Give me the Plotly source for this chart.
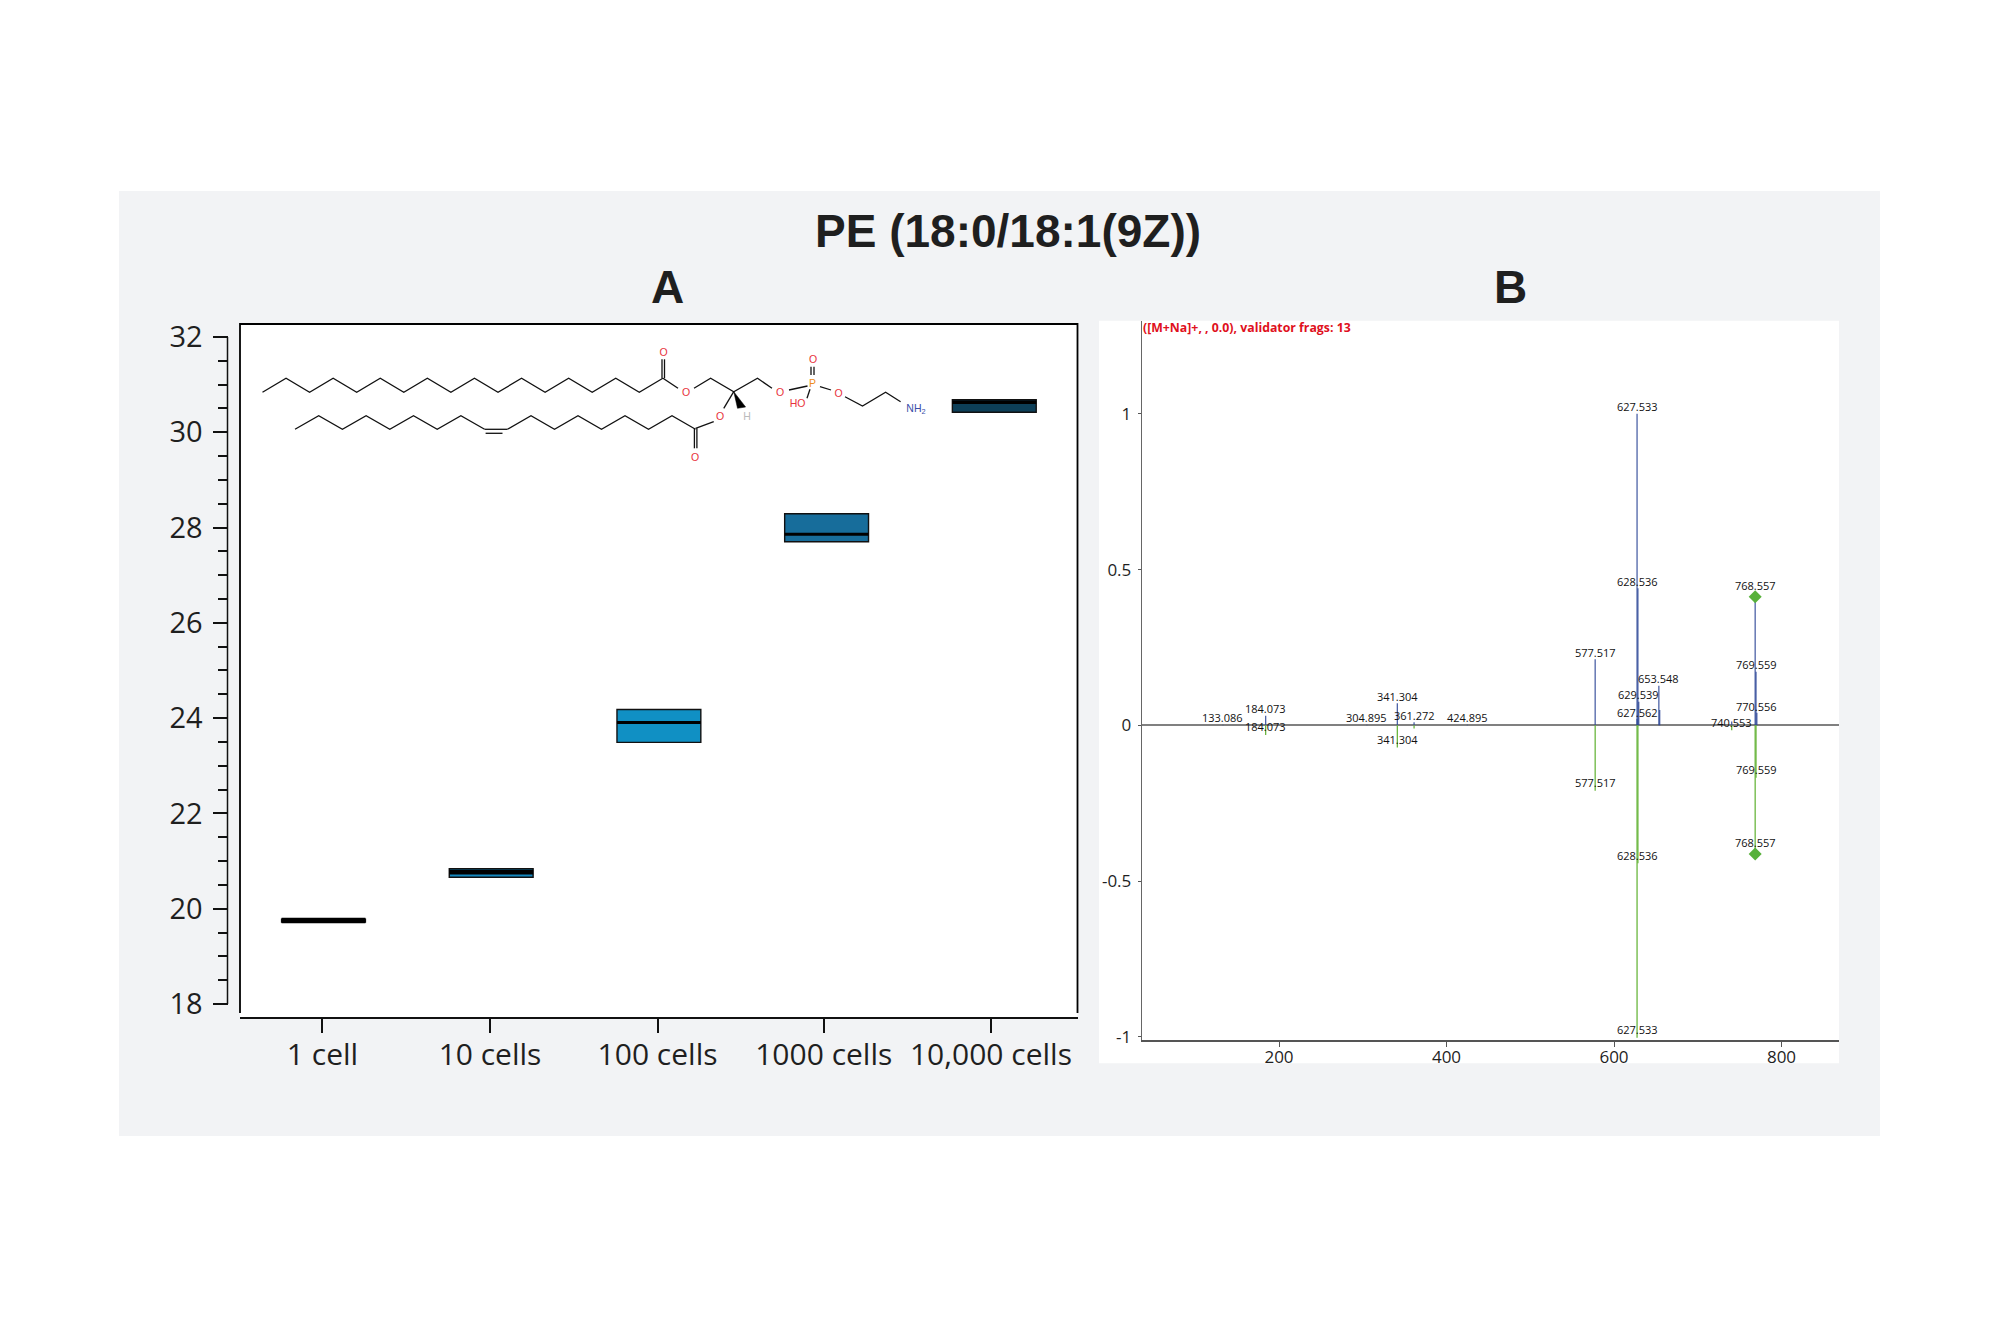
import plotly.graph_objects as go

W, H = 2000, 1333

# Panel A: retention time spread per cell count
cell_labels = ["1 cell", "10 cells", "100 cells", "1000 cells", "10,000 cells"]
cell_tick_nudge = [-0.006, -0.007, -0.008, -0.017, -0.020]
box_q1 = [19.72, 20.66, 23.49, 27.70, 30.42]
box_median = [19.75, 20.77, 23.91, 27.86, 30.63]
box_q3 = [19.78, 20.84, 24.18, 28.29, 30.68]
box_fill = ["#000000", "#1487bd", "#1090c4", "#176d9b", "#0d3f58"]
median_width = [5.5, 5, 3, 3, 3.5]

# Panel B: mirrored MS/MS spectrum
upper_mz = [133.086, 184.073, 304.895, 341.304, 361.272, 424.895, 577.517, 627.533,
            627.562, 628.536, 629.539, 653.548, 768.557, 769.559, 770.556]
upper_int = [0.002, 0.031, 0.002, 0.071, 0.010, 0.002, 0.212, 1.0,
             0.020, 0.44, 0.076, 0.127, 0.413, 0.172, 0.040]
lower_mz = [184.073, 341.304, 577.517, 627.533, 628.536, 740.553, 768.557, 769.559]
lower_int = [-0.031, -0.071, -0.21, -1.003, -0.443, -0.016, -0.413, -0.168]
extra_upper_mz = [654.55, 740.553]
extra_upper_int = [0.049, 0.012]
extra_lower_mz = [361.272]
extra_lower_int = [-0.01]
precursor_mz = [768.557, 768.557]
precursor_int = [0.413, -0.413]
y_tick_vals = [1, 0.5, 0, -0.5, -1]
y_tick_text = ["1", "0.5", "0", "-0.5", "-1"]
mz_ticks = [200, 400, 600, 800]

FONT = "Open Sans"
INK = "#1f1f1f"


def px(x):
    return x / W


def py(y):
    return 1 - y / H


def sticks(xs, ys):
    out_x, out_y = [], []
    for a, b in zip(xs, ys):
        out_x += [a, a, None]
        out_y += [0, b, None]
    return out_x, out_y


def zigzag(x0, y0, y1, step, n):
    """Skeletal carbon chain alternating between two heights."""
    xs = [x0 + step * i for i in range(n)]
    ys = [y0 if i % 2 == 0 else y1 for i in range(n)]
    return xs, ys


fig = go.Figure()

# Cell-count boxes with heavy median bars
for i, name in enumerate(cell_labels):
    fig.add_trace(go.Box(
        x=[i], q1=[box_q1[i]], median=[box_median[i]], q3=[box_q3[i]],
        lowerfence=[box_q1[i]], upperfence=[box_q3[i]], width=0.5, whiskerwidth=0,
        fillcolor=box_fill[i], line=dict(color="#111111", width=1.4),
        name=name, xaxis="x", yaxis="y", hoverinfo="skip",
    ))
    fig.add_trace(go.Scatter(
        x=[i - 0.25, i + 0.25], y=[box_median[i]] * 2, mode="lines",
        line=dict(color="#000000", width=median_width[i]),
        xaxis="x", yaxis="y", hoverinfo="skip",
    ))

# Spectrum sticks
BLUE = "rgba(45,70,150,0.85)"
GREEN = "#6ab63e"
for xs, ys, colour in [
    (upper_mz + extra_upper_mz, upper_int + extra_upper_int, BLUE),
    (lower_mz + extra_lower_mz, lower_int + extra_lower_int, GREEN),
]:
    sx, sy = sticks(xs, ys)
    fig.add_trace(go.Scatter(x=sx, y=sy, mode="lines", line=dict(color=colour, width=1.3),
                             xaxis="x2", yaxis="y2", hoverinfo="skip"))
fig.add_trace(go.Scatter(
    x=precursor_mz, y=precursor_int, mode="markers",
    marker=dict(symbol="diamond", size=10, color="#57b13a"),
    xaxis="x2", yaxis="y2", hoverinfo="skip",
))

# Lipid skeleton, on an overlay axis scaled to canvas pixels
bond_paths = [
    zigzag(262.5, 392.3, 378.3, 23.55, 18),
    ([663, 678], [378.3, 388.3]),
    ([694, 710.6, 733.75, 757.5, 772], [388.3, 378.3, 391.7, 378.3, 388.3]),
    ([789, 807.5], [390, 386]),
    ([820, 831], [386.7, 390]),
    ([810, 807], [389.3, 398.3]),
    ([845, 862.5, 885.6, 900.6], [396.7, 406, 392.3, 401.7]),
    ([733.75, 723.75], [391.7, 408.3]),
    ([713.75, 695.6], [421.7, 428.3]),
    ([662, 662], [378.3, 359.3]),
    ([664.5, 664.5], [378.3, 359.3]),
    ([811, 811], [366.7, 375]),
    ([814, 814], [366.7, 375]),
    ([694.4, 694.4], [428.3, 448.3]),
    ([696.9, 696.9], [428.3, 448.3]),
    zigzag(295, 429.3, 415.7, 23.7, 9),
    ([484.6, 507.5], [429.3, 429.3]),
    ([485.6, 502.5], [433.3, 433.3]),
    zigzag(507.5, 429.3, 415.7, 23.5, 9),
]
for xs, ys in bond_paths:
    fig.add_trace(go.Scatter(x=xs, y=ys, mode="lines", line=dict(color="#111111", width=1.3),
                             xaxis="x3", yaxis="y3", hoverinfo="skip"))
fig.add_trace(go.Scatter(
    x=[733.75, 737.5, 745.6, 733.75], y=[391.7, 408.3, 407, 391.7], mode="lines",
    fill="toself", fillcolor="#000000", line=dict(color="#000000", width=0.5),
    xaxis="x3", yaxis="y3", hoverinfo="skip",
))
atom_text = ["O", "O", "O", "P", "O", "HO", "O", "NH<sub>2</sub>", "O", "H", "O"]
atom_x = [663.7, 686, 780, 812.5, 813, 797.5, 838.7, 916, 720, 747, 695]
atom_y = [353.3, 393.3, 393.3, 384.3, 360, 404.7, 394, 409, 417.3, 417, 458.3]
atom_colour = ["#e8323c", "#e8323c", "#e8323c", "#ee8c1c", "#e8323c", "#e8323c",
               "#e8323c", "#3a4ea8", "#e8323c", "#bbbbbb", "#e8323c"]
fig.add_trace(go.Scatter(
    x=atom_x, y=atom_y, text=atom_text, mode="text",
    textfont=dict(family="Liberation Sans", size=10.5, color=atom_colour),
    textposition="middle center", xaxis="x3", yaxis="y3", hoverinfo="skip",
))

annotations = []
for text, x, y, size in [("PE (18:0/18:1(9Z))", 1008, 231, 46), ("A", 667.5, 287, 46), ("B", 1510, 287, 46)]:
    annotations.append(dict(text=f"<b>{text}</b>", x=px(x), y=py(y), xref="paper", yref="paper",
                            showarrow=False, xanchor="center", yanchor="middle",
                            font=dict(family="Liberation Sans", size=size, color=INK)))
annotations.append(dict(text="<b>([M+Na]+, , 0.0), validator frags: 13</b>", x=px(1141), y=py(328),
                        xref="paper", yref="paper", showarrow=False, xanchor="left", yanchor="middle",
                        font=dict(family=FONT, size=12.3, color="#e01020")))

# Fragment labels sit just past each stick tip, always on the upper side
peak_font = dict(family=FONT, size=11, color="#111111")
for mz, val in list(zip(upper_mz, upper_int)) + list(zip(lower_mz, lower_int)):
    if abs(val) == 0.413:
        shift = 11.7 if val < 0 else 11
    else:
        shift = 8 if val < 0 else 6.8
    annotations.append(dict(
        text=f"{mz:.3f}", x=mz, y=val, xref="x2", yref="y2", showarrow=False,
        xanchor="center", yanchor="middle", yshift=shift, font=peak_font,
    ))

shapes = [
    dict(type="rect", xref="paper", yref="paper", layer="below", x0=px(119), x1=px(1880),
         y0=py(191), y1=py(1136), fillcolor="#f2f3f5", line_width=0),
    dict(type="rect", xref="paper", yref="paper", layer="below", x0=px(1099), x1=px(1839),
         y0=py(320.7), y1=py(1063.3), fillcolor="#ffffff", line_width=0),
    dict(type="rect", xref="paper", yref="paper", layer="below", x0=px(240), x1=px(1077.5),
         y0=py(324), y1=py(1017), fillcolor="#ffffff", line_width=0),
    # Open frame around panel A
    dict(type="path", xref="paper", yref="paper",
         path=f"M {px(240)} {py(1013)} L {px(240)} {py(324)} L {px(1077.5)} {py(324)} L {px(1077.5)} {py(1013)}",
         line=dict(color="#000000", width=1.8)),
    # Detached value axis spine
    dict(type="line", xref="paper", yref="y", x0=px(227.5), x1=px(227.5), y0=18, y1=32,
         line=dict(color="#111111", width=1.5)),
]

STEP = 167.7
ORIGIN = 323.5
MZ_SCALE = 0.8375
INT_SCALE = 311.5

fig.update_layout(
    template="none",
    width=W, height=H, margin=dict(l=0, r=0, t=0, b=0, pad=0), autosize=False,
    paper_bgcolor="#ffffff", plot_bgcolor="rgba(0,0,0,0)", showlegend=False,
    boxmode="overlay", annotations=annotations, shapes=shapes,
    xaxis=dict(
        domain=[px(240), px(1077.5)], anchor="y", automargin=False,
        range=[(240 - ORIGIN) / STEP, (1077.5 - ORIGIN) / STEP],
        tickmode="array", tickvals=[i + d for i, d in enumerate(cell_tick_nudge)], ticktext=cell_labels,
        ticks="outside", ticklen=14, tickwidth=1.5, tickcolor="#111111", ticklabelstandoff=-4,
        showline=True, linecolor="#111111", linewidth=2, showgrid=False, zeroline=False,
        tickfont=dict(family=FONT, size=30, color=INK),
    ),
    yaxis=dict(
        domain=[py(1017), py(324)], anchor="free", position=px(227.5), automargin=False,
        range=[18 - 13 / 47.65, 18 + 680 / 47.65],
        tickmode="array", tickvals=list(range(18, 33, 2)),
        ticks="outside", ticklen=15, tickwidth=1.5, tickcolor="#111111", ticklabelstandoff=4,
        minor=dict(dtick=0.5, tick0=18, ticks="outside", ticklen=9.5, tickwidth=1.5, tickcolor="#111111"),
        showline=False, showgrid=False, zeroline=False,
        tickfont=dict(family=FONT, size=29, color=INK),
    ),
    xaxis2=dict(
        domain=[px(1140.7), px(1839)], anchor="y2", automargin=False,
        range=[200 + (1140.7 - 1279) / MZ_SCALE, 200 + (1839 - 1279) / MZ_SCALE],
        tickmode="array", tickvals=mz_ticks,
        ticks="outside", ticklen=5, tickwidth=1, tickcolor="#555555", ticklabelstandoff=-4,
        showline=True, linecolor="#555555", linewidth=2, showgrid=False, zeroline=False,
        tickfont=dict(family=FONT, size=17, color=INK),
    ),
    yaxis2=dict(
        domain=[py(1040), py(320.7)], anchor="free", position=px(1140.7), automargin=False,
        range=[(725.3 - 1040) / INT_SCALE, (725.3 - 320.7) / INT_SCALE],
        tickmode="array", tickvals=y_tick_vals, ticktext=y_tick_text,
        ticks="outside", ticklen=3, tickwidth=1, tickcolor="#555555", ticklabelstandoff=3,
        showline=True, linecolor="#666666", linewidth=1, showgrid=False,
        zeroline=True, zerolinecolor="#808080", zerolinewidth=1.5,
        tickfont=dict(family=FONT, size=17, color=INK),
    ),
    xaxis3=dict(domain=[0, 1], range=[0, W], anchor="y3", visible=False, automargin=False),
    yaxis3=dict(domain=[0, 1], range=[H, 0], anchor="x3", visible=False, automargin=False),
)

fig.write_html("out.html")
